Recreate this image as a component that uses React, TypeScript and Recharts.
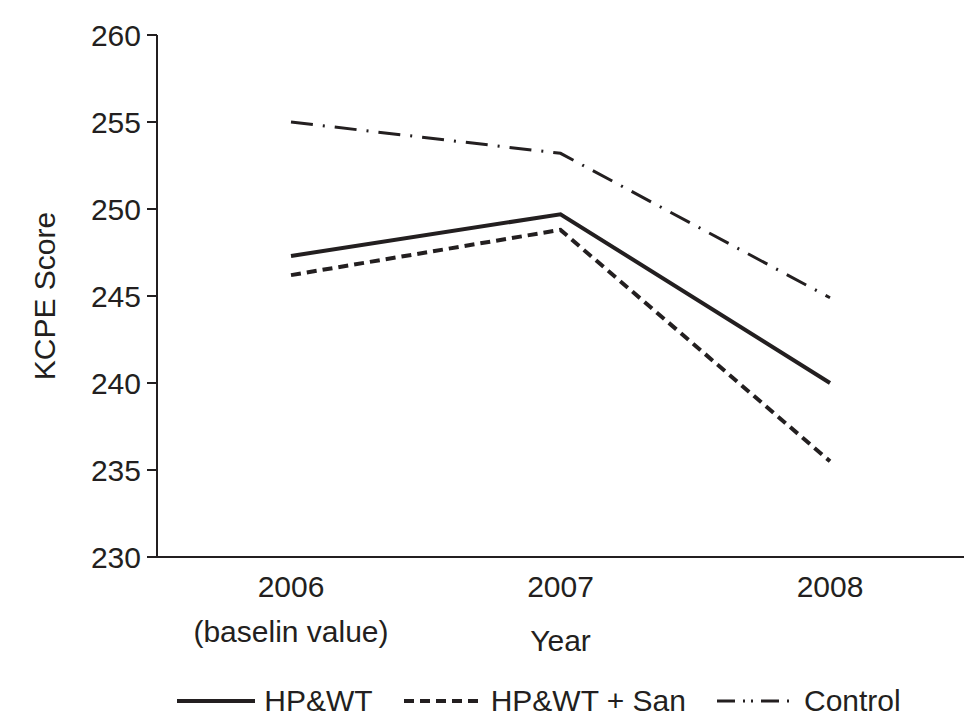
import { LineChart, Line, XAxis, YAxis, Legend } from "recharts";

const years = ["2006", "2007", "2008"];
const yearNotes = ["(baselin value)", "", ""];
const hpwt = [247.3, 249.7, 240.0];
const hpwtSan = [246.2, 248.8, 235.5];
const control = [255.0, 253.2, 244.9];
const yTicks = [230, 235, 240, 245, 250, 255, 260];
const edgeTicks = [0, 1, 2, 3];

const data = years.map((year, i) => ({
  year,
  hpwt: hpwt[i],
  hpwtSan: hpwtSan[i],
  control: control[i],
}));

const FONT = "'Liberation Sans', Arial, sans-serif";
const INK = "#231f20";

const series = [
  { key: "hpwt", name: "HP&WT", width: 4, dash: undefined, legendDash: undefined },
  { key: "hpwtSan", name: "HP&WT + San", width: 4, dash: "10 6", legendDash: "10 6" },
  { key: "control", name: "Control", width: 3, dash: "22 10 2 10", legendDash: "18 8 2 6 2 8" },
];

function YearTick(props: any) {
  const { x, y, payload } = props;
  const note = yearNotes[years.indexOf(payload.value)];
  return (
    <text x={x} textAnchor="middle" fill={INK} fontSize={30} fontFamily={FONT}>
      <tspan x={x} y={y + 22}>{payload.value}</tspan>
      {note ? <tspan x={x} y={y + 67}>{note}</tspan> : null}
    </text>
  );
}

function LegendContent() {
  return (
    <div
      style={{
        display: "flex",
        justifyContent: "center",
        alignItems: "center",
        fontFamily: FONT,
        fontSize: 30,
        color: INK,
        height: 50,
      }}
    >
      {series.map((s) => (
        <div key={s.key} style={{ display: "flex", alignItems: "center", marginRight: 30 }}>
          <svg width={80} height={12}>
            <line
              x1={1}
              x2={79}
              y1={6}
              y2={6}
              stroke={INK}
              strokeWidth={s.width}
              strokeDasharray={s.legendDash}
            />
          </svg>
          <span style={{ marginLeft: 8 }}>{s.name}</span>
        </div>
      ))}
    </div>
  );
}

export default function App() {
  return (
    <div style={{ position: "absolute", left: 0, top: 0, background: "#fff" }}>
      <LineChart
        width={980}
        height={726}
        data={data}
        margin={{ top: 35, right: 16, left: 0, bottom: 0 }}
      >
        <XAxis
          xAxisId="b"
          dataKey="year"
          axisLine={false}
          tickLine={false}
          interval={0}
          height={109}
          padding={{ left: 134, right: 134 }}
          tick={<YearTick />}
          label={{
            value: "Year",
            position: "insideBottom",
            offset: 25,
            fill: INK,
            fontSize: 30,
            fontFamily: FONT,
          }}
        />
        <XAxis
          xAxisId="a"
          type="number"
          domain={[0, 3]}
          ticks={edgeTicks}
          tick={false}
          tickSize={9}
          height={10}
          stroke={INK}
          strokeWidth={2}
        />
        <YAxis
          domain={[230, 260]}
          ticks={yTicks}
          width={157}
          tickSize={10}
          tickMargin={6}
          stroke={INK}
          strokeWidth={2}
          tick={{ fill: INK, fontSize: 30, fontFamily: FONT }}
          label={{
            value: "KCPE Score",
            angle: -90,
            position: "insideLeft",
            offset: 44,
            textAnchor: "middle",
            fill: INK,
            fontSize: 30,
            fontFamily: FONT,
          }}
        />
        <Legend
          verticalAlign="bottom"
          height={50}
          content={<LegendContent />}
          wrapperStyle={{ left: 150, width: 807 }}
        />
        {series.map((s) => (
          <Line
            key={s.key}
            xAxisId="b"
            type="linear"
            dataKey={s.key}
            name={s.name}
            stroke={INK}
            strokeWidth={s.width}
            strokeDasharray={s.dash}
            dot={false}
            activeDot={false}
            isAnimationActive={false}
          />
        ))}
      </LineChart>
    </div>
  );
}
